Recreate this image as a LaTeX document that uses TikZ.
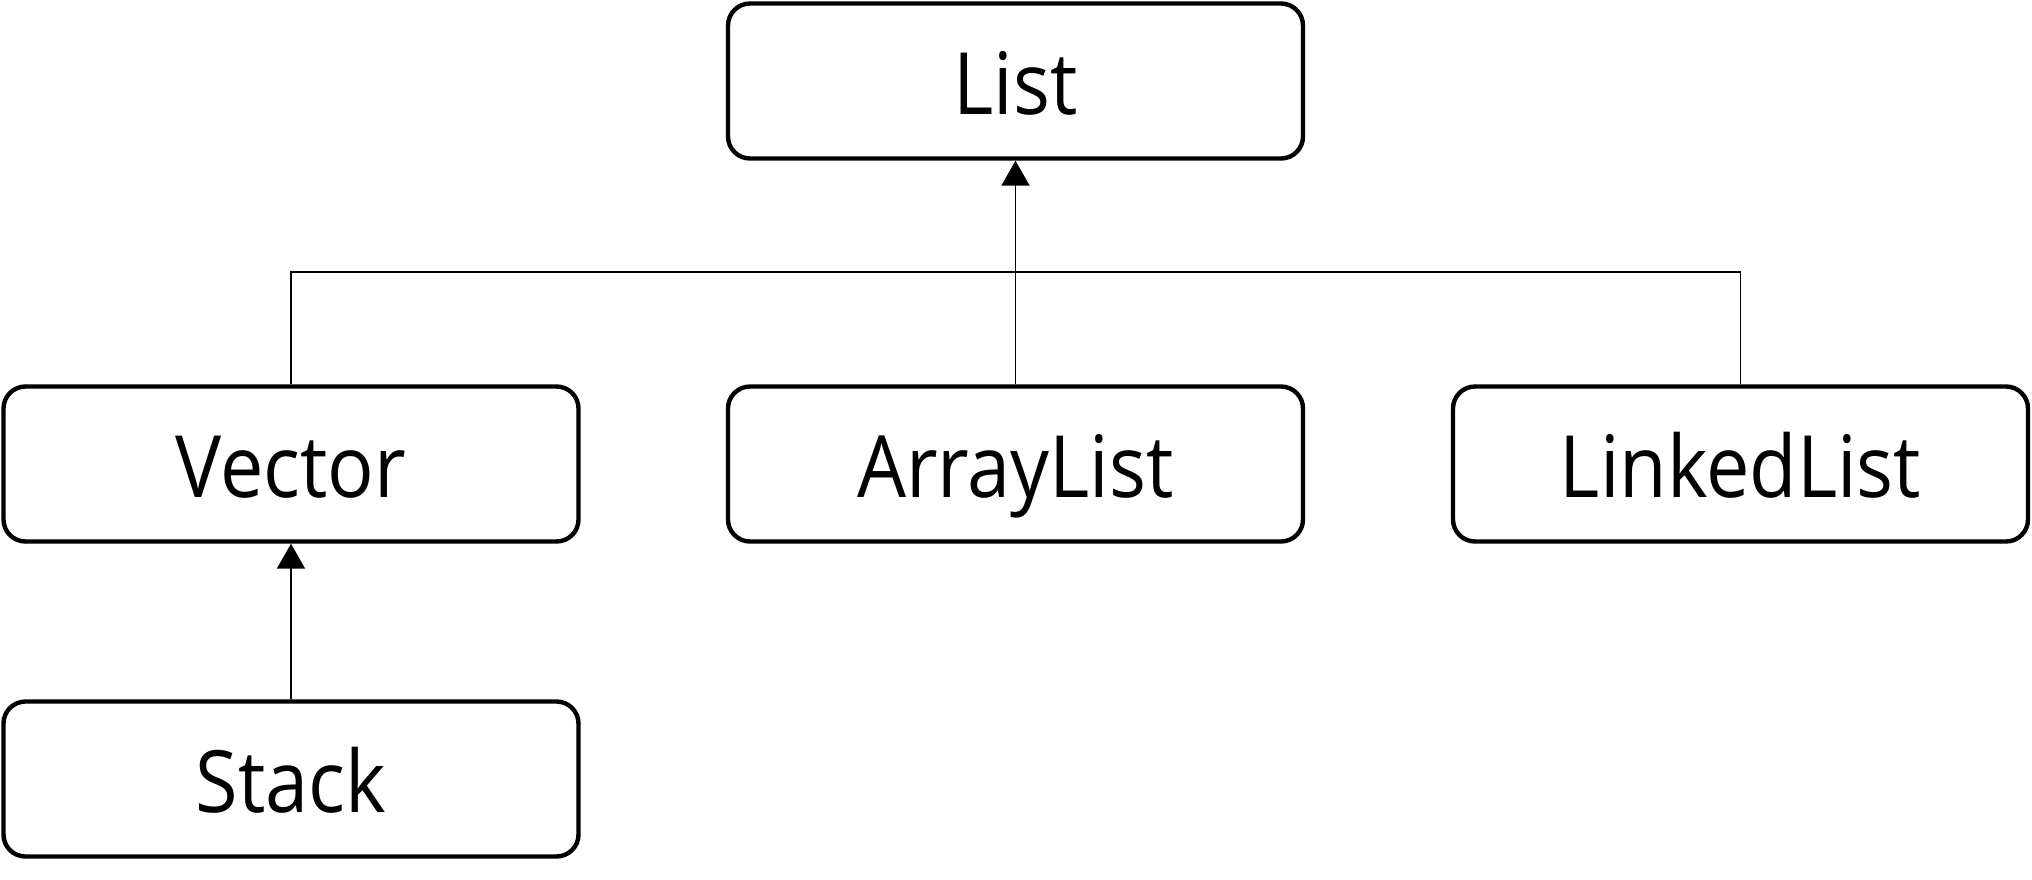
\documentclass[tikz,border=0pt]{standalone}
\usepackage{fontspec}
\setmainfont[FakeStretch=0.9]{Open Sans}
\usetikzlibrary{arrows.meta}
\tikzset{
  cls/.style={draw=black, line width=4.4pt, rounded corners=22pt,
    minimum width=575pt, minimum height=155pt, inner sep=0pt,
    text height=66pt, text depth=0pt,
    font=\fontsize{86}{100}\selectfont},
  inh/.style={line width=1.9pt, -{Triangle[length=25pt,width=28pt]}},
  bus/.style={line width=1.9pt}
}
\begin{document}
\begin{tikzpicture}[x=1pt,y=-1pt]
\useasboundingbox (0,0) rectangle (2032,879);
\node[cls] (list) at (1015.5,81) {List};
\node[cls] (vector) at (291,464) {Vector};
\node[cls] (arraylist) at (1015.5,464) {ArrayList};
\node[cls] (linkedlist) at (1740.5,464) {LinkedList};
\node[cls] (stack) at (291,779) {Stack};
\coordinate (j) at (1015.5,272);
\draw[bus] (vector.north) -- (vector.north |- j) -- (linkedlist.north |- j) -- (linkedlist.north);
\draw[inh] (arraylist.north) -- (list.south);
\draw[inh] (stack.north) -- (vector.south);
\end{tikzpicture}
\end{document}
